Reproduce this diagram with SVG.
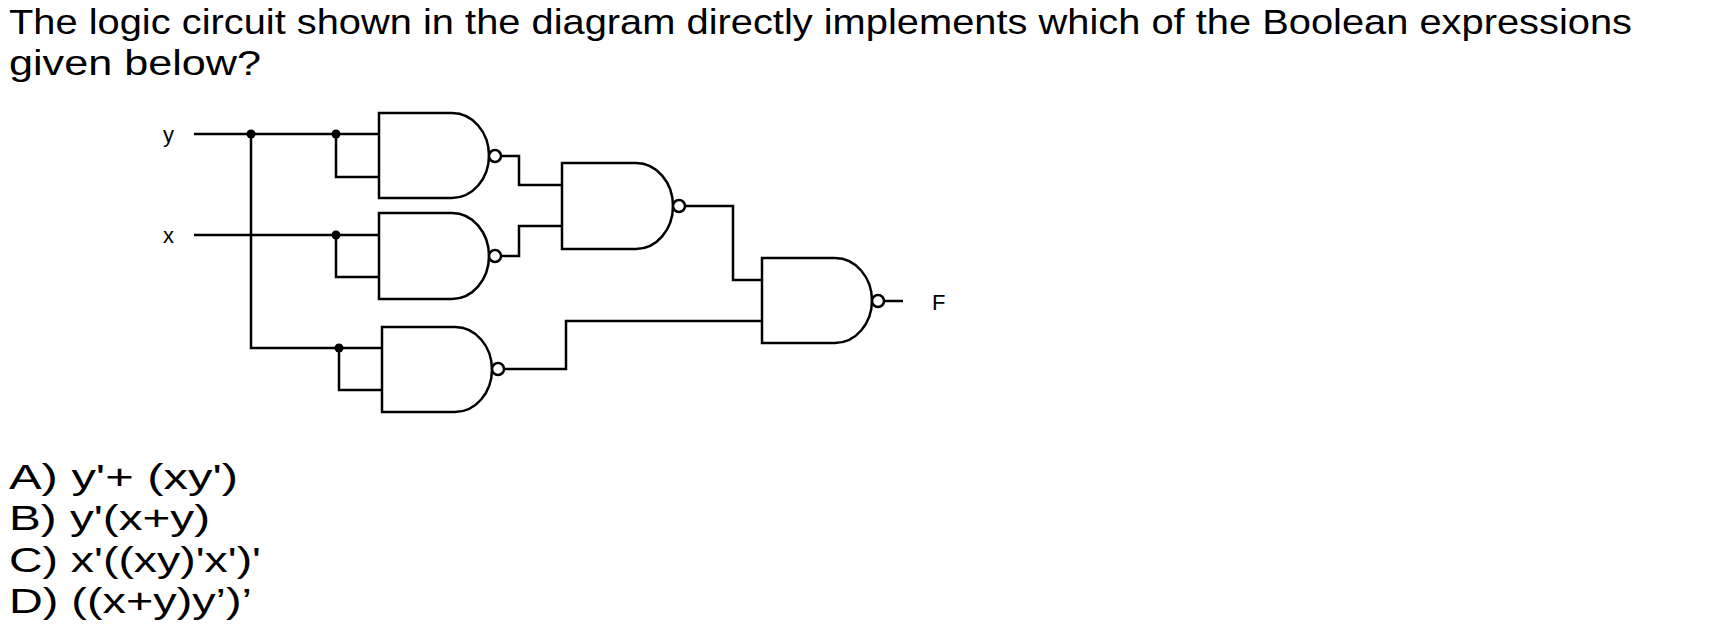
<svg xmlns="http://www.w3.org/2000/svg" width="1724" height="632" viewBox="0 0 1724 632">
<style>
text{font-family:"Liberation Sans",Arial,sans-serif;fill:#000}
.t{font-size:35px}
.l{font-size:22px}
.g{fill:#fff;stroke:#000;stroke-width:2.5}
.w{fill:none;stroke:#000;stroke-width:2.5}
.d{fill:#000}
</style>
<rect width="1724" height="632" fill="#fff"/>
<text class="t" x="9" y="34" textLength="1623" lengthAdjust="spacingAndGlyphs">The logic circuit shown in the diagram directly implements which of the Boolean expressions</text>
<text class="t" x="9" y="75" textLength="252" lengthAdjust="spacingAndGlyphs">given below?</text>
<text class="t" x="9" y="489" textLength="229" lengthAdjust="spacingAndGlyphs">A) y'+ (xy')</text>
<text class="t" x="9" y="530" textLength="201" lengthAdjust="spacingAndGlyphs">B) y'(x+y)</text>
<text class="t" x="9" y="572" textLength="252" lengthAdjust="spacingAndGlyphs">C) x'((xy)'x')'</text>
<text class="t" x="9" y="613" textLength="243" lengthAdjust="spacingAndGlyphs">D) ((x+y)y’)’</text>
<text class="l" x="163" y="142">y</text>
<text class="l" x="163" y="243">x</text>
<text class="l" x="932" y="310">F</text>
<g id="connectors">
<path class="w" d="M194,134H379M336,134V177H379M251,134V348H382M339,348V390H382"/>
<path class="w" d="M194,235H379M336,235V277H379"/>
<path class="w" d="M501,156H519V185H562M501,256H519V226H562"/>
<path class="w" d="M686,206H733V280H762M505,369H566V321H762M885,301H903"/>
<circle class="d" cx="251" cy="134" r="4.5"/>
<circle class="d" cx="336" cy="134" r="4.5"/>
<circle class="d" cx="336" cy="235" r="4.5"/>
<circle class="d" cx="339" cy="348" r="4.5"/>
</g>
<g id="g1"><path class="g" d="M379,113H452A37,42.5 0 0 1 452,198H379Z"/><circle class="g" cx="495" cy="156" r="6"/></g>
<g id="g2"><path class="g" d="M379,213H452A37,43 0 0 1 452,299H379Z"/><circle class="g" cx="495" cy="256" r="6"/></g>
<g id="g3"><path class="g" d="M562,163H636A37,43 0 0 1 636,249H562Z"/><circle class="g" cx="679" cy="206" r="6"/></g>
<g id="g4"><path class="g" d="M382,327H455A37,42.5 0 0 1 455,412H382Z"/><circle class="g" cx="498" cy="369" r="6"/></g>
<g id="g5"><path class="g" d="M762,258H835A37,42.5 0 0 1 835,343H762Z"/><circle class="g" cx="878" cy="301" r="6"/></g>
</svg>
